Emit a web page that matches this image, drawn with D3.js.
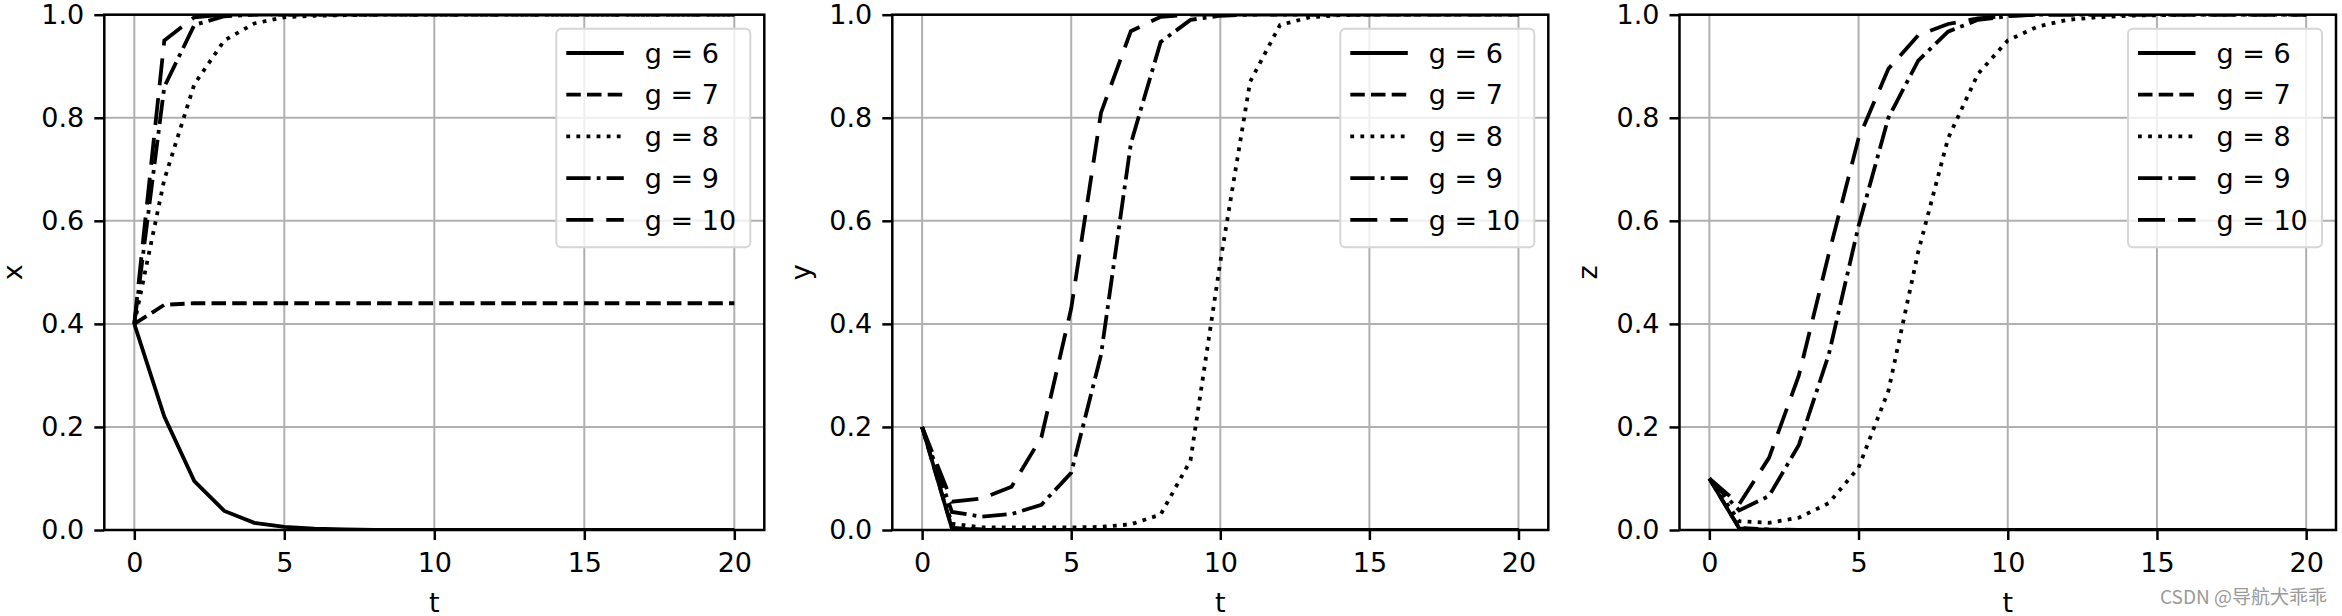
<!DOCTYPE html>
<html lang="en">
<head>
<meta charset="utf-8">
<title>x, y, z against t</title>
<script src="https://cdn.jsdelivr.net/npm/d3@7"></script>
<style>
	body { margin: 0; background: #fff; }
	svg text { font-family: "DejaVu Sans", sans-serif; }
	.axis line { stroke: #000; stroke-width: 2.5; }
	.axis path { display: none; }
	.axis text { font-size: 27px; fill: #000; }
</style>
</head>
<body>
<script>

// time steps
var t = [0,1,2,3,4,5,6,7,8,9,10,11,12,13,14,15,16,17,18,19,20];
var names = ["g = 6", "g = 7", "g = 8", "g = 9", "g = 10"];
var tTicks = [0, 5, 10, 15, 20];
var vTicks = [0, 0.2, 0.4, 0.6, 0.8, 1.0];

// x panel
var xG6  = [0.4,0.22,0.095,0.037,0.014,0.006,0.0025,0.001,0.0004,0.0002,0.0001,0,0,0,0,0,0,0,0,0,0];
var xG7  = [0.4,0.437,0.44,0.44,0.44,0.44,0.44,0.44,0.44,0.44,0.44,0.44,0.44,0.44,0.44,0.44,0.44,0.44,0.44,0.44,0.44];
var xG8  = [0.4,0.68,0.865,0.95,0.983,0.995,0.998,0.999,1,1,1,1,1,1,1,1,1,1,1,1,1];
var xG9  = [0.4,0.86,0.98,0.997,1,1,1,1,1,1,1,1,1,1,1,1,1,1,1,1,1];
var xG10 = [0.4,0.95,0.995,1,1,1,1,1,1,1,1,1,1,1,1,1,1,1,1,1,1];

// y panel
var yG6  = [0.2,0.003,0,0,0,0,0,0,0,0,0,0,0,0,0,0,0,0,0,0,0];
var yG7  = [0.2,0.004,0.001,0,0,0,0,0,0,0,0,0,0,0,0,0,0,0,0,0,0];
var yG8  = [0.2,0.012,0.005,0.005,0.005,0.005,0.006,0.011,0.03,0.135,0.52,0.87,0.98,0.995,0.999,1,1,1,1,1,1];
var yG9  = [0.2,0.035,0.026,0.031,0.049,0.111,0.34,0.75,0.947,0.99,0.998,1,1,1,1,1,1,1,1,1,1];
var yG10 = [0.2,0.055,0.061,0.084,0.18,0.43,0.81,0.968,0.996,1,1,1,1,1,1,1,1,1,1,1,1];

// z panel
var zG6  = [0.1,0.003,0,0,0,0,0,0,0,0,0,0,0,0,0,0,0,0,0,0,0];
var zG7  = [0.1,0.004,0.001,0,0,0,0,0,0,0,0,0,0,0,0,0,0,0,0,0,0];
var zG8  = [0.1,0.017,0.014,0.024,0.052,0.121,0.27,0.54,0.76,0.885,0.95,0.977,0.99,0.995,0.998,0.999,1,1,1,1,1];
var zG9  = [0.1,0.038,0.066,0.165,0.34,0.59,0.80,0.911,0.967,0.99,0.997,1,1,1,1,1,1,1,1,1,1];
var zG10 = [0.1,0.05,0.14,0.30,0.535,0.76,0.895,0.96,0.982,0.993,0.998,1,1,1,1,1,1,1,1,1,1];

var w = 2342, h = 616;
var plotTop = 14.7, plotBottom = 530;
var lw = 3.8;
var dashes = [null, "14.5,6.2", "3.8,6.3", "24.3,6.1,3.8,6.1", "27,13"];

var panels = [
	{label: "x", left: 104.3, width: 660, series: [xG6, xG7, xG8, xG9, xG10]},
	{label: "y", left: 892.3, width: 656, series: [yG6, yG7, yG8, yG9, yG10]},
	{label: "z", left: 1679.5, width: 656.5, series: [zG6, zG7, zG8, zG9, zG10]}
];

var svg = d3.select("body").append("svg")
	.attr("width", w)
	.attr("height", h);

panels.forEach(function(p, pi) {
	var xScale = d3.scaleLinear().domain([-1, 21]).range([p.left, p.left + p.width]);
	var yScale = d3.scaleLinear().domain([0, 1]).range([plotBottom, plotTop]);

	// grid
	svg.append("g").selectAll("line")
		.data(tTicks).enter().append("line")
		.attr("x1", function(d) { return xScale(d); })
		.attr("x2", function(d) { return xScale(d); })
		.attr("y1", plotTop).attr("y2", plotBottom)
		.attr("stroke", "#b0b0b0").attr("stroke-width", 2);
	svg.append("g").selectAll("line")
		.data(vTicks).enter().append("line")
		.attr("x1", p.left).attr("x2", p.left + p.width)
		.attr("y1", function(d) { return yScale(d); })
		.attr("y2", function(d) { return yScale(d); })
		.attr("stroke", "#b0b0b0").attr("stroke-width", 2);

	svg.append("clipPath").attr("id", "clip" + pi)
		.append("rect")
		.attr("x", p.left).attr("y", plotTop)
		.attr("width", p.width).attr("height", plotBottom - plotTop);

	var line = d3.line()
		.x(function(d, i) { return xScale(t[i]); })
		.y(function(d) { return yScale(d); });

	var g = svg.append("g").attr("clip-path", "url(#clip" + pi + ")");
	p.series.forEach(function(s, si) {
		g.append("path")
			.attr("d", line(s))
			.attr("fill", "none")
			.attr("stroke", "#000")
			.attr("stroke-width", lw)
			.attr("stroke-dasharray", dashes[si]);
	});

	// spines
	svg.append("rect")
		.attr("x", p.left).attr("y", plotTop)
		.attr("width", p.width).attr("height", plotBottom - plotTop)
		.attr("fill", "none").attr("stroke", "#000").attr("stroke-width", 2.5);

	svg.append("g").attr("class", "axis")
		.attr("transform", "translate(0," + plotBottom + ")")
		.call(d3.axisBottom(xScale).tickValues(tTicks).tickSize(10).tickPadding(13));
	svg.append("g").attr("class", "axis")
		.attr("transform", "translate(" + p.left + ",0)")
		.call(d3.axisLeft(yScale).tickValues(vTicks).tickFormat(d3.format(".1f")).tickSize(10).tickPadding(10));

	// axis labels
	svg.append("text")
		.attr("transform", "translate(" + (p.left - 82.5) + "," + ((plotTop + plotBottom) / 2) + ") rotate(-90)")
		.attr("text-anchor", "middle")
		.attr("font-size", "27px")
		.text(p.label);
	svg.append("text")
		.attr("x", p.left + p.width / 2)
		.attr("y", 612)
		.attr("text-anchor", "middle")
		.attr("font-size", "27px")
		.text("t");

	// legend
	var lx = p.left + p.width - 14 - 194;
	var ly = plotTop + 14;
	svg.append("rect")
		.attr("x", lx).attr("y", ly)
		.attr("width", 194).attr("height", 218.5)
		.attr("rx", 5)
		.attr("fill", "#fff").attr("fill-opacity", 0.8)
		.attr("stroke", "#d6d6d6").attr("stroke-width", 2);
	names.forEach(function(n, si) {
		var ey = ly + 24.3 + si * 41.7;
		svg.append("line")
			.attr("x1", lx + 10).attr("x2", lx + 67.5)
			.attr("y1", ey).attr("y2", ey)
			.attr("stroke", "#000").attr("stroke-width", lw)
			.attr("stroke-dasharray", dashes[si]);
		svg.append("text")
			.attr("x", lx + 88.5).attr("y", ey)
			.attr("dy", "0.36em")
			.attr("font-size", "27px")
			.text(n);
	});
});

// watermark
svg.append("text")
	.attr("x", 2327).attr("y", 604)
	.attr("text-anchor", "end")
	.attr("font-size", "19px")
	.attr("fill", "#9a9a9a")
	.style("font-family", "'Noto Sans CJK SC', sans-serif")
	.text("CSDN @导航犬乖乖");

</script>
</body>
</html>
